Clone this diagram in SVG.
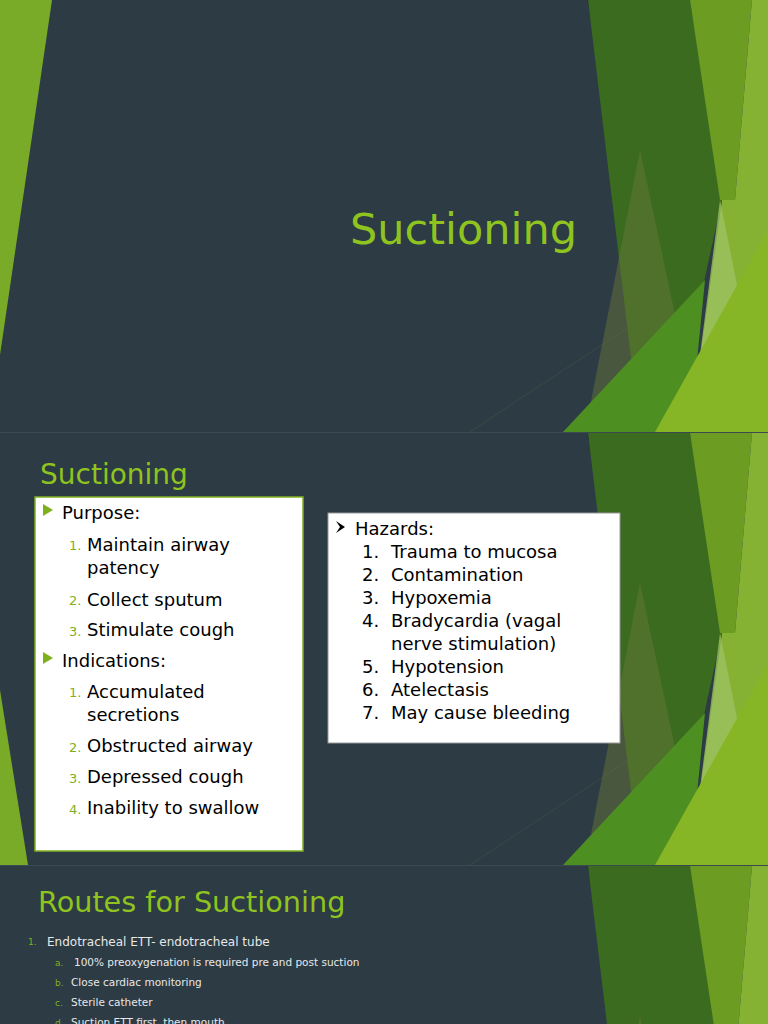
<svg xmlns="http://www.w3.org/2000/svg" xmlns:xlink="http://www.w3.org/1999/xlink" width="768" height="1024" viewBox="0 0 768 1024">
<style>
text{font-family:"DejaVu Sans",sans-serif}
.t{fill:#8fc31f}
.b{fill:#000;font-size:18px}
.n{fill:#7fb020;font-size:13px}
.s{fill:#e8e8e8;font-size:12px}
.sn{fill:#7fb020;font-size:9px}
.ss{fill:#e8e8e8;font-size:10.5px}
</style>
<defs>
<g id="deco">
<line x1="588" y1="0" x2="660" y2="432" stroke="#1f2a30" stroke-width="1"/>
<line x1="470" y1="432" x2="700" y2="280" stroke="#3a4a44" stroke-width="1"/>
<polygon points="588,0 690,0 722,200 700,300 665,432 640,432 618,250" fill="#3a6b1f"/>
<polygon points="690,0 752,0 735,200 720,200" fill="#6d9c22"/>
<polygon points="752,0 768,0 768,432 690,432 722,200 735,200" fill="#86b233"/>
<polygon points="640,150 700,432 585,432" fill="#6c7a3a" opacity="0.45"/>
<polygon points="720,200 740,300 700,432 690,432" fill="#9cc060" opacity="0.8"/>
<polygon points="563,432 705,280 690,432" fill="#4e8f22"/>
<polygon points="655,432 768,230 768,432" fill="#86b526"/>
</g>
</defs>
<rect width="768" height="1024" fill="#2c3b44"/>
<g id="slide1">
<use xlink:href="#deco"/>
<polygon points="0,0 52,0 0,355" fill="#7aab28"/>
<text class="t" x="350" y="244" font-size="43">Suctioning</text>
</g>
<rect y="432" width="768" height="1" fill="#3a4a50"/>
<g id="slide2">
<use xlink:href="#deco" transform="translate(0,433)"/>
<polygon points="0,690 28,865 0,865" fill="#7aab28"/>
<text class="t" x="40" y="484" font-size="28">Suctioning</text>
<g id="box1">
<rect x="35" y="497" width="268" height="354" fill="#fff" stroke="#7fb020" stroke-width="1.5"/>
<polygon points="43,504 53,510 43,516" fill="#7fb020"/>
<text class="b" x="62" y="519">Purpose:</text>
<text class="n" x="69" y="550">1.</text><text class="b" x="87" y="551">Maintain airway</text>
<text class="b" x="87" y="574">patency</text>
<text class="n" x="69" y="605">2.</text><text class="b" x="87" y="606">Collect sputum</text>
<text class="n" x="69" y="636">3.</text><text class="b" x="87" y="636">Stimulate cough</text>
<polygon points="43,652 53,658 43,664" fill="#7fb020"/>
<text class="b" x="62" y="667">Indications:</text>
<text class="n" x="69" y="697">1.</text><text class="b" x="87" y="698">Accumulated</text>
<text class="b" x="87" y="721">secretions</text>
<text class="n" x="69" y="752">2.</text><text class="b" x="87" y="752">Obstructed airway</text>
<text class="n" x="69" y="783">3.</text><text class="b" x="87" y="783">Depressed cough</text>
<text class="n" x="69" y="814">4.</text><text class="b" x="87" y="814">Inability to swallow</text>
</g>
<g id="box2">
<rect x="328" y="513" width="292" height="230" fill="#fff" stroke="#999" stroke-width="1"/>
<path d="M336,521 L345,527 L336,533 L340,527 Z" fill="#000"/>
<text class="b" x="355" y="535">Hazards:</text>
<text class="b" x="362" y="558">1.</text><text class="b" x="391" y="558">Trauma to mucosa</text>
<text class="b" x="362" y="581">2.</text><text class="b" x="391" y="581">Contamination</text>
<text class="b" x="362" y="604">3.</text><text class="b" x="391" y="604">Hypoxemia</text>
<text class="b" x="362" y="627">4.</text><text class="b" x="391" y="627">Bradycardia (vagal</text>
<text class="b" x="391" y="650">nerve stimulation)</text>
<text class="b" x="362" y="673">5.</text><text class="b" x="391" y="673">Hypotension</text>
<text class="b" x="362" y="696">6.</text><text class="b" x="391" y="696">Atelectasis</text>
<text class="b" x="362" y="719">7.</text><text class="b" x="391" y="719">May cause bleeding</text>
</g>
</g>
<rect y="865" width="768" height="1" fill="#3a4a50"/>
<g id="slide3">
<use xlink:href="#deco" transform="translate(0,866)"/>
<text class="t" x="38" y="912" font-size="28.7">Routes for Suctioning</text>
<text class="sn" x="28" y="945">1.</text><text class="s" x="47" y="946">Endotracheal ETT- endotracheal tube</text>
<text class="sn" x="55" y="966">a.</text><text class="ss" x="74" y="966">100% preoxygenation is required pre and post suction</text>
<text class="sn" x="55" y="986">b.</text><text class="ss" x="71" y="986">Close cardiac monitoring</text>
<text class="sn" x="55" y="1006">c.</text><text class="ss" x="71" y="1006">Sterile catheter</text>
<text class="sn" x="55" y="1026">d.</text><text class="ss" x="71" y="1026">Suction ETT first, then mouth</text>
</g>
</svg>
